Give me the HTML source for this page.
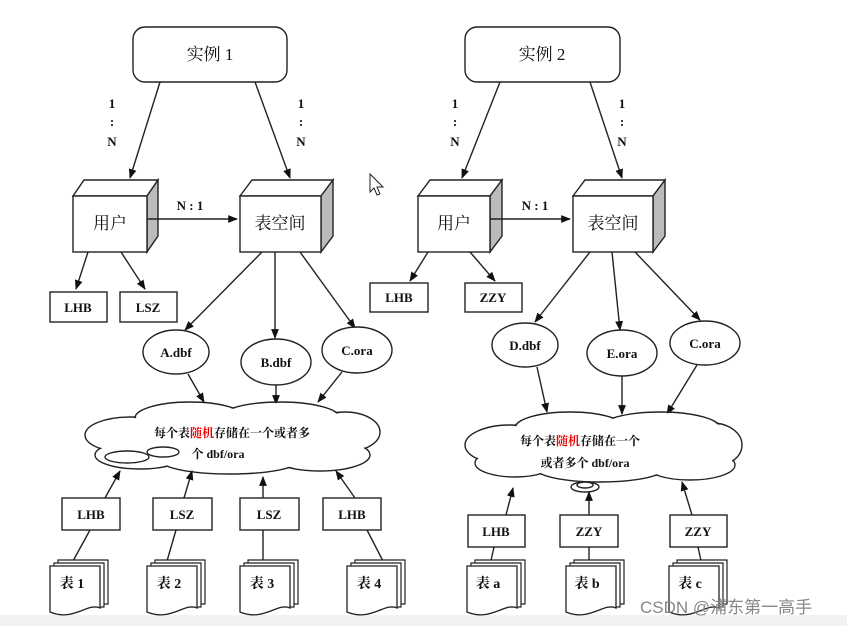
<!DOCTYPE html>
<html><head><meta charset="utf-8"><style>
html,body{margin:0;padding:0;background:#fff;}
svg{display:block;}
text{font-family:"Liberation Serif","Noto Serif CJK SC","Noto Sans CJK SC",serif;fill:#111;}
</style></head><body>
<svg width="847" height="626" viewBox="0 0 847 626" xmlns="http://www.w3.org/2000/svg">
<defs>
<marker id="a" viewBox="0 0 10 10" refX="9" refY="5" markerWidth="7" markerHeight="7" orient="auto-start-reverse"><path d="M0,1 L10,5 L0,9 Z" fill="#111"/></marker>
<g id="doc">
<path d="M8,-6 H58 V38 H8 Z" fill="#fff" stroke="#222" stroke-width="1.2"/>
<path d="M4,-3 H54 V41 H4 Z" fill="#fff" stroke="#222" stroke-width="1.2"/>
<path d="M0,0 H50 V42 C38,36 24,56 0,46 Z" fill="#fff" stroke="#222" stroke-width="1.3"/>
</g>
</defs>
<rect x="0" y="0" width="847" height="626" fill="#fff"/>
<rect x="0" y="615" width="847" height="11" fill="#f2f2f2"/>
<g stroke="#222" stroke-width="1.4" fill="none">
<rect x="133" y="27" width="154" height="55" rx="12" fill="#fff"/>
<line x1="160" y1="82" x2="130" y2="178" marker-end="url(#a)"/>
<line x1="255" y1="82" x2="290" y2="178" marker-end="url(#a)"/>
<path d="M73,196 L84,180 L158,180 L147,196 Z" fill="#fff"/>
<path d="M147,196 L158,180 L158,236 L147,252 Z" fill="#bbb"/>
<rect x="73" y="196" width="74" height="56" fill="#fff"/>
<path d="M240,196 L252,180 L333,180 L321,196 Z" fill="#fff"/>
<path d="M321,196 L333,180 L333,236 L321,252 Z" fill="#bbb"/>
<rect x="240" y="196" width="81" height="56" fill="#fff"/>
<line x1="147" y1="219" x2="237" y2="219" marker-end="url(#a)"/>
<line x1="88" y1="252" x2="76" y2="289" marker-end="url(#a)"/>
<line x1="121" y1="252" x2="145" y2="289" marker-end="url(#a)"/>
<rect x="50" y="292" width="57" height="30" fill="#fff"/>
<rect x="120" y="292" width="57" height="30" fill="#fff"/>
<line x1="262" y1="252" x2="185" y2="330" marker-end="url(#a)"/>
<line x1="275" y1="252" x2="275" y2="338" marker-end="url(#a)"/>
<line x1="300" y1="252" x2="355" y2="328" marker-end="url(#a)"/>
<ellipse cx="176" cy="352" rx="33" ry="22" fill="#fff"/>
<ellipse cx="276" cy="362" rx="35" ry="23" fill="#fff"/>
<ellipse cx="357" cy="350" rx="35" ry="23" fill="#fff"/>
<line x1="188" y1="374" x2="204" y2="402" marker-end="url(#a)"/>
<line x1="276" y1="385" x2="276" y2="404" marker-end="url(#a)"/>
<line x1="342" y1="372" x2="318" y2="402" marker-end="url(#a)"/>
<g>
<ellipse cx="130" cy="435" rx="45" ry="18"/><ellipse cx="190" cy="418" rx="55" ry="16"/>
<ellipse cx="280" cy="418" rx="60" ry="16"/><ellipse cx="345" cy="432" rx="35" ry="20"/>
<ellipse cx="320" cy="455" rx="50" ry="16"/><ellipse cx="230" cy="460" rx="70" ry="14"/>
<ellipse cx="140" cy="455" rx="45" ry="14"/>
</g>
<g fill="#fff" stroke="none">
<ellipse cx="130" cy="435" rx="44" ry="17"/><ellipse cx="190" cy="418" rx="54" ry="15"/>
<ellipse cx="280" cy="418" rx="59" ry="15"/><ellipse cx="345" cy="432" rx="34" ry="19"/>
<ellipse cx="320" cy="455" rx="49" ry="15"/><ellipse cx="230" cy="460" rx="69" ry="13"/>
<ellipse cx="140" cy="455" rx="44" ry="13"/><rect x="110" y="420" width="250" height="40"/>
</g>
<ellipse cx="127" cy="457" rx="22" ry="6" fill="#fff"/>
<ellipse cx="163" cy="452" rx="16" ry="5" fill="#fff"/>
<line x1="105" y1="498" x2="120" y2="471" marker-end="url(#a)"/>
<line x1="184" y1="498" x2="192" y2="471" marker-end="url(#a)"/>
<line x1="263" y1="498" x2="263" y2="477" marker-end="url(#a)"/>
<line x1="355" y1="498" x2="336" y2="471" marker-end="url(#a)"/>
<rect x="62" y="498" width="58" height="32" fill="#fff"/>
<rect x="153" y="498" width="59" height="32" fill="#fff"/>
<rect x="240" y="498" width="59" height="32" fill="#fff"/>
<rect x="323" y="498" width="58" height="32" fill="#fff"/>
<line x1="90" y1="530" x2="73" y2="561"/>
<line x1="176" y1="530" x2="167" y2="561"/>
<line x1="263" y1="530" x2="263" y2="561"/>
<line x1="367" y1="530" x2="383" y2="561"/>
<rect x="465" y="27" width="155" height="55" rx="12" fill="#fff"/>
<line x1="500" y1="82" x2="462" y2="178" marker-end="url(#a)"/>
<line x1="590" y1="82" x2="622" y2="178" marker-end="url(#a)"/>
<path d="M418,196 L430,180 L502,180 L490,196 Z" fill="#fff"/>
<path d="M490,196 L502,180 L502,236 L490,252 Z" fill="#bbb"/>
<rect x="418" y="196" width="72" height="56" fill="#fff"/>
<path d="M573,196 L585,180 L665,180 L653,196 Z" fill="#fff"/>
<path d="M653,196 L665,180 L665,236 L653,252 Z" fill="#bbb"/>
<rect x="573" y="196" width="80" height="56" fill="#fff"/>
<line x1="490" y1="219" x2="570" y2="219" marker-end="url(#a)"/>
<line x1="428" y1="252" x2="410" y2="281" marker-end="url(#a)"/>
<line x1="470" y1="252" x2="495" y2="281" marker-end="url(#a)"/>
<rect x="370" y="283" width="58" height="29" fill="#fff"/>
<rect x="465" y="283" width="57" height="29" fill="#fff"/>
<line x1="590" y1="252" x2="535" y2="322" marker-end="url(#a)"/>
<line x1="612" y1="252" x2="620" y2="330" marker-end="url(#a)"/>
<line x1="635" y1="252" x2="700" y2="320" marker-end="url(#a)"/>
<ellipse cx="525" cy="345" rx="33" ry="22" fill="#fff"/>
<ellipse cx="622" cy="353" rx="35" ry="23" fill="#fff"/>
<ellipse cx="705" cy="343" rx="35" ry="22" fill="#fff"/>
<line x1="537" y1="367" x2="547" y2="412" marker-end="url(#a)"/>
<line x1="622" y1="376" x2="622" y2="414" marker-end="url(#a)"/>
<line x1="697" y1="365" x2="667" y2="414" marker-end="url(#a)"/>
<g>
<ellipse cx="510" cy="445" rx="45" ry="20"/><ellipse cx="570" cy="428" rx="55" ry="16"/>
<ellipse cx="660" cy="428" rx="60" ry="16"/><ellipse cx="712" cy="445" rx="30" ry="22"/>
<ellipse cx="690" cy="465" rx="45" ry="15"/><ellipse cx="600" cy="468" rx="65" ry="14"/>
<ellipse cx="515" cy="463" rx="40" ry="14"/>
</g>
<g fill="#fff" stroke="none">
<ellipse cx="510" cy="445" rx="44" ry="19"/><ellipse cx="570" cy="428" rx="54" ry="15"/>
<ellipse cx="660" cy="428" rx="59" ry="15"/><ellipse cx="712" cy="445" rx="29" ry="21"/>
<ellipse cx="690" cy="465" rx="44" ry="14"/><ellipse cx="600" cy="468" rx="64" ry="13"/>
<ellipse cx="515" cy="463" rx="39" ry="13"/><rect x="490" y="430" width="230" height="40"/>
</g>
<ellipse cx="585" cy="487" rx="14" ry="5" fill="#fff"/>
<ellipse cx="585" cy="485" rx="8" ry="3" fill="#fff"/>
<line x1="506" y1="515" x2="513" y2="488" marker-end="url(#a)"/>
<line x1="589" y1="515" x2="589" y2="492" marker-end="url(#a)"/>
<line x1="692" y1="515" x2="682" y2="482" marker-end="url(#a)"/>
<rect x="468" y="515" width="57" height="32" fill="#fff"/>
<rect x="560" y="515" width="58" height="32" fill="#fff"/>
<rect x="670" y="515" width="57" height="32" fill="#fff"/>
<line x1="494" y1="547" x2="490" y2="565"/>
<line x1="589" y1="547" x2="589" y2="565"/>
<line x1="698" y1="547" x2="702" y2="565"/>
</g>
<use href="#doc" x="50" y="566"/>
<use href="#doc" x="147" y="566"/>
<use href="#doc" x="240" y="566"/>
<use href="#doc" x="347" y="566"/>
<use href="#doc" x="467" y="566"/>
<use href="#doc" x="566" y="566"/>
<use href="#doc" x="669" y="566"/>
<path d="M370,174 L370,192 L374,188 L377,195 L380,194 L377,187 L383,187 Z" fill="#fff" stroke="#222" stroke-width="1"/>
<g font-size="13" text-anchor="middle" font-weight="bold">
<text x="210" y="60" font-size="17" font-weight="normal">实例 1</text>
<text x="542" y="60" font-size="17" font-weight="normal">实例 2</text>
<text x="112" y="108">1</text><text x="112" y="126">:</text><text x="112" y="146">N</text>
<text x="301" y="108">1</text><text x="301" y="126">:</text><text x="301" y="146">N</text>
<text x="455" y="108">1</text><text x="455" y="126">:</text><text x="455" y="146">N</text>
<text x="622" y="108">1</text><text x="622" y="126">:</text><text x="622" y="146">N</text>
<text x="190" y="210">N : 1</text>
<text x="535" y="210">N : 1</text>
<text x="110" y="229" font-size="17" font-weight="normal">用户</text>
<text x="280" y="229" font-size="17" font-weight="normal">表空间</text>
<text x="454" y="229" font-size="17" font-weight="normal">用户</text>
<text x="613" y="229" font-size="17" font-weight="normal">表空间</text>
<text x="78" y="312">LHB</text><text x="148" y="312">LSZ</text>
<text x="399" y="302">LHB</text><text x="493" y="302">ZZY</text>
<text x="176" y="357">A.dbf</text><text x="276" y="367">B.dbf</text><text x="357" y="355">C.ora</text>
<text x="525" y="350">D.dbf</text><text x="622" y="358">E.ora</text><text x="705" y="348">C.ora</text>
<text x="232" y="437" font-size="12">每个表<tspan fill="#e00">随机</tspan>存储在一个或者多</text>
<text x="218" y="458" font-size="12">个 dbf/ora</text>
<text x="580" y="445" font-size="12">每个表<tspan fill="#e00">随机</tspan>存储在一个</text>
<text x="585" y="467" font-size="12">或者多个 dbf/ora</text>
<text x="91" y="519">LHB</text><text x="182" y="519">LSZ</text><text x="269" y="519">LSZ</text><text x="352" y="519">LHB</text>
<text x="496" y="536">LHB</text><text x="589" y="536">ZZY</text><text x="698" y="536">ZZY</text>
<text x="72" y="588" font-size="14">表 1</text><text x="169" y="588" font-size="14">表 2</text>
<text x="262" y="588" font-size="14">表 3</text><text x="369" y="588" font-size="14">表 4</text>
<text x="488" y="588" font-size="14">表 a</text><text x="587" y="588" font-size="14">表 b</text>
<text x="690" y="588" font-size="14">表 c</text>
</g>
<text x="640" y="613" font-size="17" style="font-family:'Liberation Sans','Noto Sans CJK SC',sans-serif;fill:#888">CSDN @浦东第一高手</text>
</svg>
</body></html>
